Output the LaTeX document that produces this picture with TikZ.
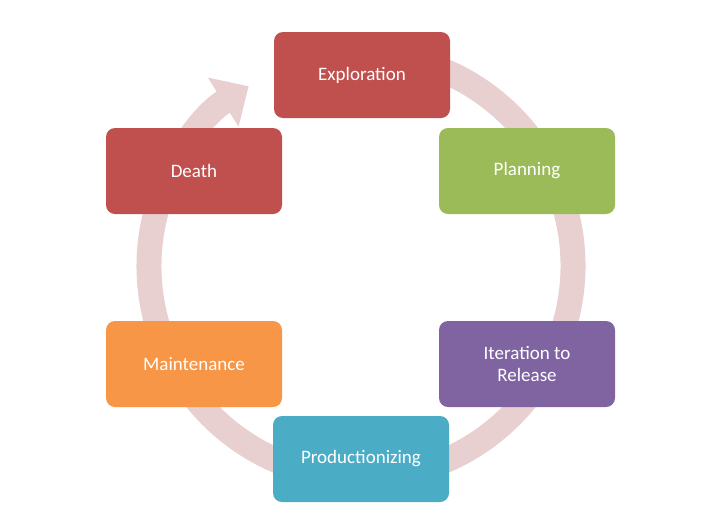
\documentclass[tikz,border=0pt]{standalone}
\usepackage{fontspec}
\setmainfont{Carlito}
\usetikzlibrary{arrows.meta}
\definecolor{cred}{HTML}{C0504D}
\definecolor{cgreen}{HTML}{9BBB59}
\definecolor{cpurple}{HTML}{8064A2}
\definecolor{cteal}{HTML}{4BACC6}
\definecolor{corange}{HTML}{F79646}
\definecolor{ring}{HTML}{E8D0D1}
\begin{document}
\begin{tikzpicture}[x=1pt,y=-1pt,
  box/.style={rounded corners=9pt,minimum width=176pt,minimum height=86pt,text=white,
    font=\fontsize{19}{22}\selectfont,align=center,inner sep=2pt}]
\useasboundingbox (0,0) rectangle (725,528);
\coordinate (c) at (361,266);
\draw[ring,line width=25pt,-{Triangle[width=56pt,length=30pt]}] (c) ++(-80:212) arc[start angle=-80,delta angle=318,radius=212];
\node[box,fill=cred] (e) at (362,75) {Exploration};
\node[box,fill=cgreen] (p) at (527,171) {Planning};
\node[box,fill=cpurple] (i) at (527,364) {Iteration to\\Release};
\node[box,fill=cteal] (pr) at (361,459) {Productionizing};
\node[box,fill=corange] (m) at (194,364) {Maintenance};
\node[box,fill=cred] (d) at (194,171) {Death};
\end{tikzpicture}
\end{document}
